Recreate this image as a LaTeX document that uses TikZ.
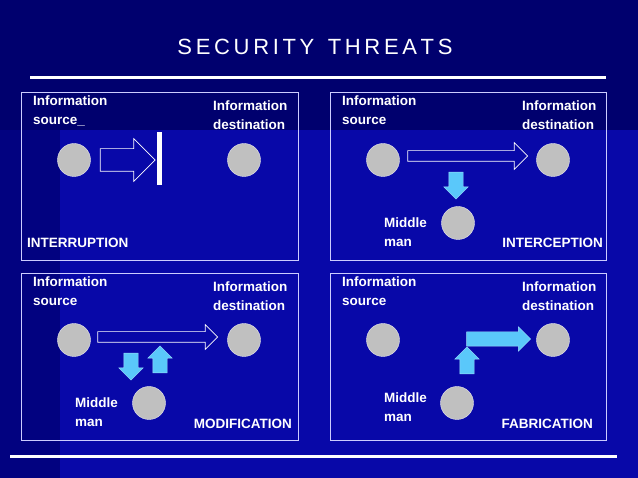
\documentclass[tikz,border=0pt]{standalone}
\usepackage{fontspec}
\setmainfont{Liberation Sans}
\usetikzlibrary{shapes.arrows}
\definecolor{navy}{RGB}{0,0,110}
\definecolor{bright}{RGB}{8,8,168}
\definecolor{dot}{RGB}{192,192,192}
\definecolor{cyanarr}{RGB}{90,200,250}
\begin{document}
\begin{tikzpicture}[x=1pt,y=-1pt,
  panel/.style={draw=white!80!blue,line width=0.8pt},
  dotn/.style={circle,fill=dot,draw=white!85!gray,minimum size=33pt,inner sep=0pt},
  lbl/.style={text=white,font=\bfseries\fontsize{13.5}{19}\selectfont,align=left,inner sep=0pt},
  arr/.style={single arrow,inner xsep=0pt,text height=0pt,text depth=0pt},
  hollow/.style={arr,draw=white,line width=0.7pt,minimum height=#1,inner ysep=11pt,single arrow head extend=10pt},
  thin/.style={arr,draw=white,line width=0.7pt,minimum height=#1,inner ysep=5pt,single arrow head extend=8pt},
  solid/.style={arr,fill=cyanarr,draw=cyanarr!60!white,minimum height=#1,inner ysep=7pt,single arrow head extend=5pt},
  vsolid/.style={solid=#1,inner xsep=7pt,inner ysep=0pt},
  rule/.style={white,line width=3pt}]
\useasboundingbox (0,0) rectangle (638,478);
\fill[navy] (0,0) rectangle (638,478);
\fill[bright] (60,130) rectangle (638,478);
\fill[navy!70!bright] (0,130) rectangle (60,478);
\node[text=white,font=\fontsize{22}{26}\selectfont] (title) at (315,47) {S\,E\,C\,U\,R\,I\,T\,Y\, \,T\,H\,R\,E\,A\,T\,S};
\draw[rule] (30,78) -- (606,78);
\draw[rule] (10,457) -- (617,457);
\draw[panel] (21,92) rectangle (298,260);
\draw[panel] (330,92) rectangle (606,260);
\draw[panel] (21,273) rectangle (298,440);
\draw[panel] (330,273) rectangle (606,440);
% TL interruption
\node[lbl,anchor=north west] (l1) at (33,96) {Information\\source\_};
\node[lbl,anchor=north west] (l2) at (213,101) {Information\\destination};
\node[dotn] (s1) at (74,160) {};
\node[dotn] (d1) at (244,160) {};
\node[hollow=55pt] (a1) at (122,160) {};
\fill[white] (157,132) rectangle (162,185);
\node[lbl,anchor=west] (n1) at (27,243) {INTERRUPTION};
% TR interception
\node[lbl,anchor=north west] (l3) at (342,96) {Information\\source};
\node[lbl,anchor=north west] (l4) at (522,101) {Information\\destination};
\node[dotn] (s2) at (383,160) {};
\node[dotn] (d2) at (553,160) {};
\node[thin=120pt] (a2) at (465,156) {};
\node[vsolid=27pt,shape border rotate=270] (a3) at (456,182) {};
\node[dotn] (m2) at (458,223) {};
\node[lbl,anchor=north west] (l5) at (384,218) {Middle\\man};
\node[lbl,anchor=east] (n2) at (603,243) {INTERCEPTION};
% BL modification
\node[lbl,anchor=north west] (l6) at (33,277) {Information\\source};
\node[lbl,anchor=north west] (l7) at (213,282) {Information\\destination};
\node[dotn] (s3) at (74,340) {};
\node[dotn] (d3) at (244,340) {};
\node[thin=120pt,inner ysep=5pt,single arrow head extend=7pt] (a4) at (155,337) {};
\node[vsolid=27pt,shape border rotate=270] (a5) at (131,363) {};
\node[vsolid=27pt,shape border rotate=90] (a6) at (160,363) {};
\node[dotn] (m3) at (149,403) {};
\node[lbl,anchor=north west] (l8) at (75,398) {Middle\\man};
\node[lbl,anchor=east] (n3) at (292,424) {MODIFICATION};
% BR fabrication
\node[lbl,anchor=north west] (l9) at (342,277) {Information\\source};
\node[lbl,anchor=north west] (l10) at (522,282) {Information\\destination};
\node[dotn] (s4) at (383,340) {};
\node[dotn] (d4) at (553,340) {};
\node[solid=64pt] (a7) at (495,339) {};
\node[vsolid=27pt,shape border rotate=90] (a8) at (467,364) {};
\node[dotn] (m4) at (457,403) {};
\node[lbl,anchor=north west] (l11) at (384,393) {Middle\\man};
\node[lbl,anchor=east] (n4) at (593,424) {FABRICATION};
\end{tikzpicture}
\end{document}
